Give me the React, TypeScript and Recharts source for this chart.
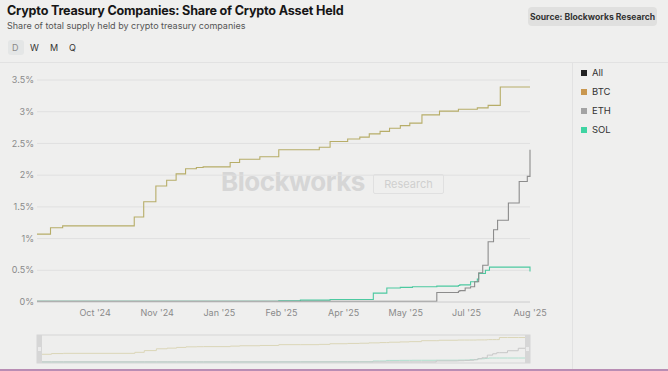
import React from 'react';
import { LineChart, Line, XAxis, YAxis, CartesianGrid, Brush } from 'recharts';

// Day offsets since start of range (≈ early Aug 2024), breakpoints of step series
const days = [0, 10, 19, 72, 79, 88, 96, 103, 110, 118, 123, 143, 150, 165, 179, 195, 209, 217, 230, 239, 246, 249, 254, 259, 261, 269, 276, 278, 285, 296, 298, 312, 313, 317, 321, 324, 326, 327, 330, 332, 334, 335, 338, 341, 343, 349, 357, 363, 365];
const btc = [1.07, 1.17, 1.2, 1.34, 1.58, 1.83, 1.92, 2.02, 2.1, 2.12, 2.13, 2.2, 2.25, 2.29, 2.4, 2.4, 2.44, 2.53, 2.57, 2.6, 2.65, 2.65, 2.69, 2.69, 2.74, 2.78, 2.82, 2.82, 2.95, 2.95, 3.01, 3.04, 3.04, 3.04, 3.04, 3.04, 3.06, 3.06, 3.06, 3.06, 3.1, 3.1, 3.1, 3.1, 3.39, 3.39, 3.39, 3.39, 3.39];
const eth = [0.01, 0.01, 0.01, 0.01, 0.01, 0.01, 0.01, 0.01, 0.01, 0.01, 0.01, 0.01, 0.01, 0.01, 0.01, 0.01, 0.01, 0.01, 0.01, 0.01, 0.01, 0.01, 0.01, 0.01, 0.01, 0.01, 0.01, 0.01, 0.01, 0.15, 0.15, 0.17, 0.18, 0.22, 0.24, 0.32, 0.32, 0.46, 0.58, 0.58, 0.95, 0.95, 1.14, 1.29, 1.29, 1.56, 1.9, 1.98, 2.4];
const sol = [0.01, 0.01, 0.01, 0.01, 0.01, 0.01, 0.01, 0.01, 0.01, 0.01, 0.01, 0.01, 0.01, 0.01, 0.02, 0.03, 0.03, 0.04, 0.04, 0.04, 0.04, 0.14, 0.14, 0.22, 0.22, 0.23, 0.23, 0.24, 0.24, 0.25, 0.25, 0.26, 0.27, 0.27, 0.32, 0.32, 0.36, 0.45, 0.45, 0.5, 0.5, 0.55, 0.55, 0.55, 0.55, 0.55, 0.55, 0.55, 0.48];

const tickDays = [43, 89, 135, 181, 227, 273, 318, 365];
const tickLabels = ["Oct '24", "Nov '24", "Jan '25", "Feb '25", "Apr '25", "May '25", "Jul '25", "Aug '25"];
const yTicks = [0, 0.5, 1, 1.5, 2, 2.5, 3, 3.5];

const legendNames = ['All', 'BTC', 'ETH', 'SOL'];
const legendColors = ['#222222', '#c9974f', '#a3a3a3', '#3fd4a2'];

const BTC_LINE = '#b7ad68';
const ETH_LINE = '#8c8c8c';
const SOL_LINE = '#4cc9a0';

const rows = days.map((d, i) => ({ day: d, btc: btc[i], eth: eth[i], sol: sol[i] }));

const FONT = 'Inter, "Liberation Sans", Arial, sans-serif';

export default function App() {
  return (
    <div style={{ position: 'absolute', left: 0, top: 0, width: 668, height: 371, background: '#efefee', fontFamily: FONT, overflow: 'hidden' }}>
      <div style={{ position: 'absolute', left: 7, top: 3, fontSize: 12.6, fontWeight: 700, color: '#161616', letterSpacing: -0.2, whiteSpace: 'nowrap' }}>
        Crypto Treasury Companies: Share of Crypto Asset Held
      </div>
      <div style={{ position: 'absolute', left: 7, top: 20, fontSize: 9, color: '#555', whiteSpace: 'nowrap' }}>
        Share of total supply held by crypto treasury companies
      </div>
      <div style={{ position: 'absolute', left: 8, top: 40, width: 16, height: 15, background: '#e4e6e6', borderRadius: 3 }} />
      {['D', 'W', 'M', 'Q'].map((t, i) => (
        <div key={t} style={{ position: 'absolute', left: [12, 30, 50, 69][i], top: 42, fontSize: 9, color: i === 0 ? '#8a8a8a' : '#333' }}>{t}</div>
      ))}
      <div style={{ position: 'absolute', left: 528, top: 7, width: 129, height: 19, background: '#e0e0df', borderRadius: 4, fontSize: 8.6, fontWeight: 700, color: '#333', display: 'flex', alignItems: 'center', justifyContent: 'center', whiteSpace: 'nowrap' }}>
        Source: Blockworks Research
      </div>
      <div style={{ position: 'absolute', left: 0, top: 62, width: 668, height: 1, background: '#e2e2e2' }} />
      <div style={{ position: 'absolute', left: 572, top: 63, width: 1, height: 306, background: '#e2e2e2' }} />

      {/* watermark */}
      <div style={{ position: 'absolute', left: 221, top: 166, fontSize: 26, fontWeight: 700, color: '#d6d6d6', letterSpacing: -0.5 }}>Blockworks</div>
      <div style={{ position: 'absolute', left: 373, top: 174, width: 71, height: 20, border: '1px solid #e0e0e0', borderRadius: 2, fontSize: 11, color: '#cfcfcf', display: 'flex', alignItems: 'center', justifyContent: 'center', boxSizing: 'border-box' }}>Research</div>

      <LineChart width={572} height={371} data={rows} margin={{ top: 80, right: 42, bottom: 8, left: 0 }} style={{ position: 'absolute', left: 0, top: 0 }}>
        <CartesianGrid vertical={false} stroke="#e0e0e0" />
        <XAxis
          dataKey="day"
          type="number"
          domain={[0, 365]}
          ticks={tickDays}
          tickFormatter={(v: number) => tickLabels[tickDays.indexOf(v)] ?? ''}
          axisLine={{ stroke: '#d4d4d4' }}
          tickLine={false}
          tick={{ fill: '#8a8a8a', fontSize: 9, fontFamily: FONT }}
          height={33}
          interval={0}
        />
        <YAxis
          domain={[0, 3.5]}
          ticks={yTicks}
          tickFormatter={(v: number) => `${v}%`}
          width={37}
          axisLine={false}
          tickLine={false}
          tickSize={0}
          tickMargin={3}
          tick={{ fill: '#8a8a8a', fontSize: 9, fontFamily: FONT }}
        />
        <Line type="stepAfter" dataKey="sol" stroke={SOL_LINE} strokeWidth={1.1} dot={false} isAnimationActive={false} />
        <Line type="stepAfter" dataKey="eth" stroke={ETH_LINE} strokeWidth={1.1} dot={false} isAnimationActive={false} />
        <Line type="stepAfter" dataKey="btc" stroke={BTC_LINE} strokeWidth={1.1} dot={false} isAnimationActive={false} />
        <Brush dataKey="day" x={37} y={335} width={493} height={28} stroke="#d6d6d6" fill="#f4f4f3" travellerWidth={5}>
          <LineChart data={rows}>
            <XAxis xAxisId="pano" dataKey="day" type="number" domain={[0, 365]} hide />
            <YAxis yAxisId="pano" domain={[0, 3.6]} hide />
            <Line xAxisId="pano" yAxisId="pano" type="stepAfter" dataKey="sol" stroke="#a6e0cc" strokeWidth={1} dot={false} isAnimationActive={false} />
            <Line xAxisId="pano" yAxisId="pano" type="stepAfter" dataKey="eth" stroke="#c4c4c4" strokeWidth={1} dot={false} isAnimationActive={false} />
            <Line xAxisId="pano" yAxisId="pano" type="stepAfter" dataKey="btc" stroke="#dcd6b0" strokeWidth={1} dot={false} isAnimationActive={false} />
          </LineChart>
        </Brush>
      </LineChart>

      {legendNames.map((n, i) => (
        <div key={n} style={{ position: 'absolute', left: 581, top: 67 + i * 19, display: 'flex', alignItems: 'center', fontSize: 9.5, color: '#333' }}>
          <span style={{ width: 6, height: 6, background: legendColors[i], display: 'inline-block', marginRight: 5 }} />
          {n}
        </div>
      ))}
      <div style={{ position: 'absolute', left: 0, top: 369, width: 668, height: 2, background: '#b98db4' }} />
    </div>
  );
}
